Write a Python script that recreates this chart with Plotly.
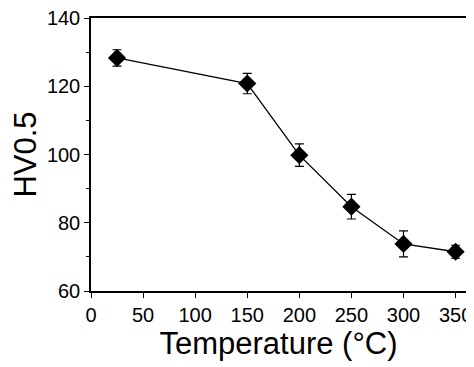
import plotly.graph_objects as go

temperature = [25, 150, 200, 250, 300, 350]
hv = [128.3, 120.8, 99.8, 84.7, 73.8, 71.5]
hv_err = [2.4, 3.0, 3.3, 3.6, 3.8, 1.9]
x_ticks = [0, 50, 100, 150, 200, 250, 300, 350]
y_ticks = [60, 80, 100, 120, 140]

fig = go.Figure()
fig.add_trace(go.Scatter(
    x=temperature, y=hv,
    mode="lines+markers",
    line=dict(color="black", width=1.3),
    marker=dict(symbol="diamond", size=14, color="black"),
    error_y=dict(type="data", array=hv_err, visible=True, color="black", thickness=1.2, width=4.5),
    showlegend=False,
))

font = "Liberation Sans, Arial, sans-serif"
fig.update_layout(
    width=466, height=359,
    margin=dict(l=83, r=8, t=10, b=76),
    paper_bgcolor="white", plot_bgcolor="white",
    font=dict(family=font, color="black"),
)
fig.update_xaxes(
    range=[0, 360], tickvals=x_ticks, ticks="outside", ticklen=5, tickwidth=1.3,
    tickcolor="black", showline=True, linecolor="black", linewidth=1.5, mirror=True,
    showgrid=False, zeroline=False, tickfont=dict(size=20), automargin=False,
    ticklabeloverflow="allow",
    title=dict(text="Temperature (°C)", font=dict(size=31), standoff=8),
)
fig.update_yaxes(
    range=[60, 140], tickvals=y_ticks, ticks="outside", ticklen=5, tickwidth=1.3,
    tickcolor="black", showline=True, linecolor="black", linewidth=1.5, mirror=True,
    showgrid=False, zeroline=False, tickfont=dict(size=20), automargin=False,
    ticklabeloverflow="allow",
    minor=dict(dtick=10, ticks="outside", ticklen=3, tickcolor="black", tickwidth=1.2, showgrid=False),
    title=dict(text="HV0.5", font=dict(size=31), standoff=30),
)
fig.write_html("out.html")
